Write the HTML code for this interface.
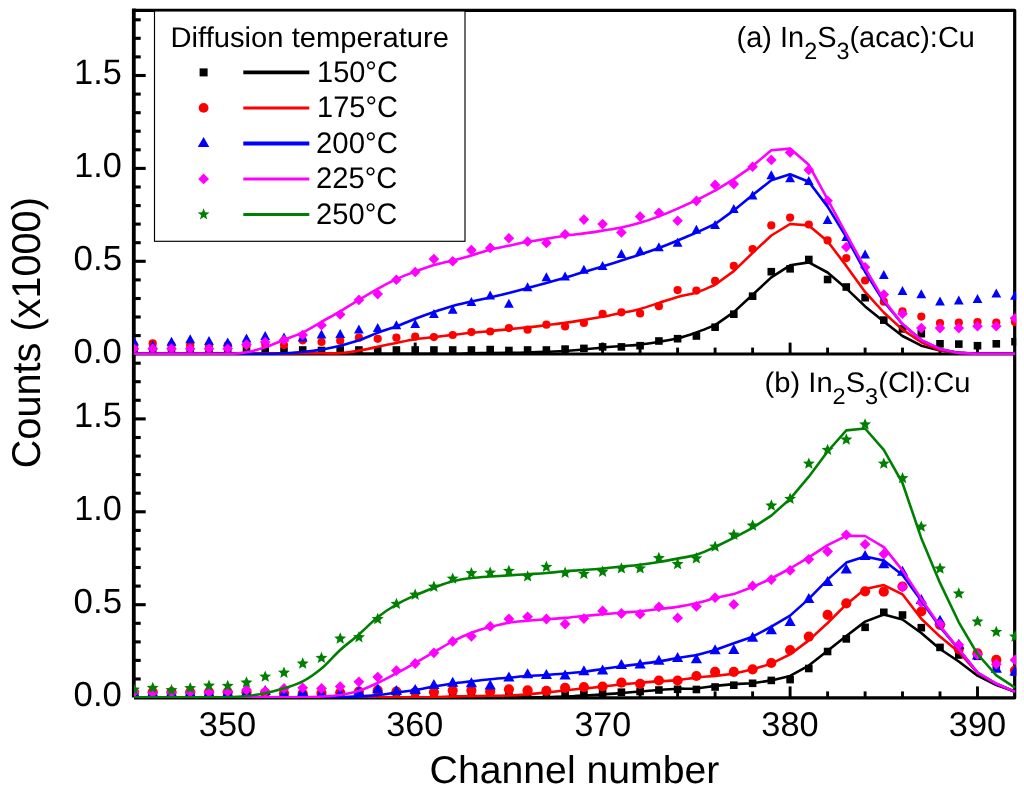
<!DOCTYPE html>
<html><head><meta charset="utf-8"><title>Diffusion temperature</title><style>html,body{margin:0;padding:0;background:#fff;width:1024px;height:796px;overflow:hidden}svg{display:block}</style></head><body>
<svg width="1024" height="796" viewBox="0 0 1024 796">
<rect width="1024" height="796" fill="#fff"/>
<defs><clipPath id="ct"><rect x="134" y="11" width="882.2" height="344.0"/></clipPath><clipPath id="cb"><rect x="134" y="355.5" width="882.2" height="342.5"/></clipPath></defs>
<line x1="133.8" y1="8.6" x2="133.8" y2="697.6" stroke="#000" stroke-width="3.8"/><path d="M133.8,10.3 L1014.7,10.3 L1014.7,697.8 L134,697.8" fill="none" stroke="#000" stroke-width="3.2" stroke-linejoin="round"/><line x1="134" y1="354.05" x2="1014.7" y2="354.05" stroke="#000" stroke-width="3"/><line x1="135" y1="335.6" x2="140.7" y2="335.6" stroke="#000" stroke-width="3.1"/><line x1="135" y1="317.0" x2="140.7" y2="317.0" stroke="#000" stroke-width="3.1"/><line x1="135" y1="298.5" x2="140.7" y2="298.5" stroke="#000" stroke-width="3.1"/><line x1="135" y1="279.9" x2="140.7" y2="279.9" stroke="#000" stroke-width="3.1"/><line x1="135" y1="261.3" x2="145.7" y2="261.3" stroke="#000" stroke-width="3.1"/><line x1="135" y1="242.7" x2="140.7" y2="242.7" stroke="#000" stroke-width="3.1"/><line x1="135" y1="224.1" x2="140.7" y2="224.1" stroke="#000" stroke-width="3.1"/><line x1="135" y1="205.6" x2="140.7" y2="205.6" stroke="#000" stroke-width="3.1"/><line x1="135" y1="187.0" x2="140.7" y2="187.0" stroke="#000" stroke-width="3.1"/><line x1="135" y1="168.4" x2="145.7" y2="168.4" stroke="#000" stroke-width="3.1"/><line x1="135" y1="149.8" x2="140.7" y2="149.8" stroke="#000" stroke-width="3.1"/><line x1="135" y1="131.2" x2="140.7" y2="131.2" stroke="#000" stroke-width="3.1"/><line x1="135" y1="112.7" x2="140.7" y2="112.7" stroke="#000" stroke-width="3.1"/><line x1="135" y1="94.1" x2="140.7" y2="94.1" stroke="#000" stroke-width="3.1"/><line x1="135" y1="75.5" x2="145.7" y2="75.5" stroke="#000" stroke-width="3.1"/><line x1="135" y1="56.9" x2="140.7" y2="56.9" stroke="#000" stroke-width="3.1"/><line x1="135" y1="38.3" x2="140.7" y2="38.3" stroke="#000" stroke-width="3.1"/><line x1="135" y1="19.8" x2="140.7" y2="19.8" stroke="#000" stroke-width="3.1"/><line x1="135" y1="679.0" x2="140.7" y2="679.0" stroke="#000" stroke-width="3.1"/><line x1="135" y1="660.4" x2="140.7" y2="660.4" stroke="#000" stroke-width="3.1"/><line x1="135" y1="641.9" x2="140.7" y2="641.9" stroke="#000" stroke-width="3.1"/><line x1="135" y1="623.3" x2="140.7" y2="623.3" stroke="#000" stroke-width="3.1"/><line x1="135" y1="604.7" x2="145.7" y2="604.7" stroke="#000" stroke-width="3.1"/><line x1="135" y1="586.1" x2="140.7" y2="586.1" stroke="#000" stroke-width="3.1"/><line x1="135" y1="567.5" x2="140.7" y2="567.5" stroke="#000" stroke-width="3.1"/><line x1="135" y1="549.0" x2="140.7" y2="549.0" stroke="#000" stroke-width="3.1"/><line x1="135" y1="530.4" x2="140.7" y2="530.4" stroke="#000" stroke-width="3.1"/><line x1="135" y1="511.8" x2="145.7" y2="511.8" stroke="#000" stroke-width="3.1"/><line x1="135" y1="493.2" x2="140.7" y2="493.2" stroke="#000" stroke-width="3.1"/><line x1="135" y1="474.6" x2="140.7" y2="474.6" stroke="#000" stroke-width="3.1"/><line x1="135" y1="456.1" x2="140.7" y2="456.1" stroke="#000" stroke-width="3.1"/><line x1="135" y1="437.5" x2="140.7" y2="437.5" stroke="#000" stroke-width="3.1"/><line x1="135" y1="418.9" x2="145.7" y2="418.9" stroke="#000" stroke-width="3.1"/><line x1="135" y1="400.3" x2="140.7" y2="400.3" stroke="#000" stroke-width="3.1"/><line x1="135" y1="381.7" x2="140.7" y2="381.7" stroke="#000" stroke-width="3.1"/><line x1="135" y1="363.2" x2="140.7" y2="363.2" stroke="#000" stroke-width="3.1"/><line x1="152.7" y1="353.55" x2="152.7" y2="347.6" stroke="#000" stroke-width="2.9"/><line x1="190.2" y1="353.55" x2="190.2" y2="347.6" stroke="#000" stroke-width="2.9"/><line x1="227.7" y1="353.55" x2="227.7" y2="342.6" stroke="#000" stroke-width="2.9"/><line x1="265.2" y1="353.55" x2="265.2" y2="347.6" stroke="#000" stroke-width="2.9"/><line x1="302.7" y1="353.55" x2="302.7" y2="347.6" stroke="#000" stroke-width="2.9"/><line x1="340.2" y1="353.55" x2="340.2" y2="347.6" stroke="#000" stroke-width="2.9"/><line x1="377.7" y1="353.55" x2="377.7" y2="347.6" stroke="#000" stroke-width="2.9"/><line x1="415.2" y1="353.55" x2="415.2" y2="342.6" stroke="#000" stroke-width="2.9"/><line x1="452.7" y1="353.55" x2="452.7" y2="347.6" stroke="#000" stroke-width="2.9"/><line x1="490.2" y1="353.55" x2="490.2" y2="347.6" stroke="#000" stroke-width="2.9"/><line x1="527.6" y1="353.55" x2="527.6" y2="347.6" stroke="#000" stroke-width="2.9"/><line x1="565.1" y1="353.55" x2="565.1" y2="347.6" stroke="#000" stroke-width="2.9"/><line x1="602.6" y1="353.55" x2="602.6" y2="342.6" stroke="#000" stroke-width="2.9"/><line x1="640.1" y1="353.55" x2="640.1" y2="347.6" stroke="#000" stroke-width="2.9"/><line x1="677.6" y1="353.55" x2="677.6" y2="347.6" stroke="#000" stroke-width="2.9"/><line x1="715.1" y1="353.55" x2="715.1" y2="347.6" stroke="#000" stroke-width="2.9"/><line x1="752.6" y1="353.55" x2="752.6" y2="347.6" stroke="#000" stroke-width="2.9"/><line x1="790.1" y1="353.55" x2="790.1" y2="342.6" stroke="#000" stroke-width="2.9"/><line x1="827.6" y1="353.55" x2="827.6" y2="347.6" stroke="#000" stroke-width="2.9"/><line x1="865.1" y1="353.55" x2="865.1" y2="347.6" stroke="#000" stroke-width="2.9"/><line x1="902.5" y1="353.55" x2="902.5" y2="347.6" stroke="#000" stroke-width="2.9"/><line x1="940.0" y1="353.55" x2="940.0" y2="347.6" stroke="#000" stroke-width="2.9"/><line x1="977.5" y1="353.55" x2="977.5" y2="342.6" stroke="#000" stroke-width="2.9"/><line x1="152.7" y1="697.4" x2="152.7" y2="691.4" stroke="#000" stroke-width="2.9"/><line x1="190.2" y1="697.4" x2="190.2" y2="691.4" stroke="#000" stroke-width="2.9"/><line x1="227.7" y1="697.4" x2="227.7" y2="686.4" stroke="#000" stroke-width="2.9"/><line x1="265.2" y1="697.4" x2="265.2" y2="691.4" stroke="#000" stroke-width="2.9"/><line x1="302.7" y1="697.4" x2="302.7" y2="691.4" stroke="#000" stroke-width="2.9"/><line x1="340.2" y1="697.4" x2="340.2" y2="691.4" stroke="#000" stroke-width="2.9"/><line x1="377.7" y1="697.4" x2="377.7" y2="691.4" stroke="#000" stroke-width="2.9"/><line x1="415.2" y1="697.4" x2="415.2" y2="686.4" stroke="#000" stroke-width="2.9"/><line x1="452.7" y1="697.4" x2="452.7" y2="691.4" stroke="#000" stroke-width="2.9"/><line x1="490.2" y1="697.4" x2="490.2" y2="691.4" stroke="#000" stroke-width="2.9"/><line x1="527.6" y1="697.4" x2="527.6" y2="691.4" stroke="#000" stroke-width="2.9"/><line x1="565.1" y1="697.4" x2="565.1" y2="691.4" stroke="#000" stroke-width="2.9"/><line x1="602.6" y1="697.4" x2="602.6" y2="686.4" stroke="#000" stroke-width="2.9"/><line x1="640.1" y1="697.4" x2="640.1" y2="691.4" stroke="#000" stroke-width="2.9"/><line x1="677.6" y1="697.4" x2="677.6" y2="691.4" stroke="#000" stroke-width="2.9"/><line x1="715.1" y1="697.4" x2="715.1" y2="691.4" stroke="#000" stroke-width="2.9"/><line x1="752.6" y1="697.4" x2="752.6" y2="691.4" stroke="#000" stroke-width="2.9"/><line x1="790.1" y1="697.4" x2="790.1" y2="686.4" stroke="#000" stroke-width="2.9"/><line x1="827.6" y1="697.4" x2="827.6" y2="691.4" stroke="#000" stroke-width="2.9"/><line x1="865.1" y1="697.4" x2="865.1" y2="691.4" stroke="#000" stroke-width="2.9"/><line x1="902.5" y1="697.4" x2="902.5" y2="691.4" stroke="#000" stroke-width="2.9"/><line x1="940.0" y1="697.4" x2="940.0" y2="691.4" stroke="#000" stroke-width="2.9"/><line x1="977.5" y1="697.4" x2="977.5" y2="686.4" stroke="#000" stroke-width="2.9"/>
<g clip-path="url(#ct)">
<rect x="130.2" y="346.6" width="7.6" height="7.6" fill="#000"/><rect x="148.9" y="346.6" width="7.6" height="7.6" fill="#000"/><rect x="167.7" y="346.6" width="7.6" height="7.6" fill="#000"/><rect x="186.4" y="346.6" width="7.6" height="7.6" fill="#000"/><rect x="205.2" y="346.6" width="7.6" height="7.6" fill="#000"/><rect x="223.9" y="346.6" width="7.6" height="7.6" fill="#000"/><rect x="242.7" y="346.2" width="7.6" height="7.6" fill="#000"/><rect x="261.4" y="346.6" width="7.6" height="7.6" fill="#000"/><rect x="280.2" y="347.2" width="7.6" height="7.6" fill="#000"/><rect x="298.9" y="346.2" width="7.6" height="7.6" fill="#000"/><rect x="317.7" y="346.7" width="7.6" height="7.6" fill="#000"/><rect x="336.4" y="346.2" width="7.6" height="7.6" fill="#000"/><rect x="355.1" y="346.2" width="7.6" height="7.6" fill="#000"/><rect x="373.9" y="346.2" width="7.6" height="7.6" fill="#000"/><rect x="392.6" y="346.2" width="7.6" height="7.6" fill="#000"/><rect x="411.4" y="346.2" width="7.6" height="7.6" fill="#000"/><rect x="430.1" y="346.2" width="7.6" height="7.6" fill="#000"/><rect x="448.9" y="346.2" width="7.6" height="7.6" fill="#000"/><rect x="467.6" y="346.2" width="7.6" height="7.6" fill="#000"/><rect x="486.4" y="345.8" width="7.6" height="7.6" fill="#000"/><rect x="505.1" y="346.7" width="7.6" height="7.6" fill="#000"/><rect x="523.8" y="346.2" width="7.6" height="7.6" fill="#000"/><rect x="542.6" y="346.2" width="7.6" height="7.6" fill="#000"/><rect x="561.3" y="345.3" width="7.6" height="7.6" fill="#000"/><rect x="580.1" y="344.6" width="7.6" height="7.6" fill="#000"/><rect x="598.8" y="343.1" width="7.6" height="7.6" fill="#000"/><rect x="617.6" y="343.1" width="7.6" height="7.6" fill="#000"/><rect x="636.3" y="341.9" width="7.6" height="7.6" fill="#000"/><rect x="655.1" y="337.2" width="7.6" height="7.6" fill="#000"/><rect x="673.8" y="334.9" width="7.6" height="7.6" fill="#000"/><rect x="692.6" y="332.2" width="7.6" height="7.6" fill="#000"/><rect x="711.3" y="323.4" width="7.6" height="7.6" fill="#000"/><rect x="730.0" y="310.4" width="7.6" height="7.6" fill="#000"/><rect x="748.8" y="292.4" width="7.6" height="7.6" fill="#000"/><rect x="767.5" y="267.9" width="7.6" height="7.6" fill="#000"/><rect x="786.3" y="265.0" width="7.6" height="7.6" fill="#000"/><rect x="805.0" y="255.7" width="7.6" height="7.6" fill="#000"/><rect x="823.8" y="275.7" width="7.6" height="7.6" fill="#000"/><rect x="842.5" y="283.2" width="7.6" height="7.6" fill="#000"/><rect x="861.3" y="293.9" width="7.6" height="7.6" fill="#000"/><rect x="880.0" y="316.3" width="7.6" height="7.6" fill="#000"/><rect x="898.7" y="325.1" width="7.6" height="7.6" fill="#000"/><rect x="917.5" y="329.9" width="7.6" height="7.6" fill="#000"/><rect x="936.2" y="340.0" width="7.6" height="7.6" fill="#000"/><rect x="955.0" y="340.3" width="7.6" height="7.6" fill="#000"/><rect x="973.7" y="341.9" width="7.6" height="7.6" fill="#000"/><rect x="992.5" y="340.0" width="7.6" height="7.6" fill="#000"/><rect x="1011.2" y="337.9" width="7.6" height="7.6" fill="#000"/>
<circle cx="134.0" cy="345.0" r="4.1" fill="#f00"/><circle cx="152.7" cy="343.4" r="4.1" fill="#f00"/><circle cx="171.5" cy="345.0" r="4.1" fill="#f00"/><circle cx="190.2" cy="345.2" r="4.1" fill="#f00"/><circle cx="209.0" cy="345.0" r="4.1" fill="#f00"/><circle cx="227.7" cy="345.0" r="4.1" fill="#f00"/><circle cx="246.5" cy="345.0" r="4.1" fill="#f00"/><circle cx="265.2" cy="344.0" r="4.1" fill="#f00"/><circle cx="284.0" cy="345.0" r="4.1" fill="#f00"/><circle cx="302.7" cy="340.3" r="4.1" fill="#f00"/><circle cx="321.5" cy="342.0" r="4.1" fill="#f00"/><circle cx="340.2" cy="340.7" r="4.1" fill="#f00"/><circle cx="358.9" cy="337.7" r="4.1" fill="#f00"/><circle cx="377.7" cy="338.8" r="4.1" fill="#f00"/><circle cx="396.4" cy="337.7" r="4.1" fill="#f00"/><circle cx="415.2" cy="336.7" r="4.1" fill="#f00"/><circle cx="433.9" cy="337.1" r="4.1" fill="#f00"/><circle cx="452.7" cy="335.0" r="4.1" fill="#f00"/><circle cx="471.4" cy="332.1" r="4.1" fill="#f00"/><circle cx="490.2" cy="331.5" r="4.1" fill="#f00"/><circle cx="508.9" cy="328.1" r="4.1" fill="#f00"/><circle cx="527.6" cy="329.7" r="4.1" fill="#f00"/><circle cx="546.4" cy="324.7" r="4.1" fill="#f00"/><circle cx="565.1" cy="326.5" r="4.1" fill="#f00"/><circle cx="583.9" cy="322.9" r="4.1" fill="#f00"/><circle cx="602.6" cy="313.9" r="4.1" fill="#f00"/><circle cx="621.4" cy="312.3" r="4.1" fill="#f00"/><circle cx="640.1" cy="313.4" r="4.1" fill="#f00"/><circle cx="658.9" cy="306.2" r="4.1" fill="#f00"/><circle cx="677.6" cy="290.1" r="4.1" fill="#f00"/><circle cx="696.4" cy="290.6" r="4.1" fill="#f00"/><circle cx="715.1" cy="280.9" r="4.1" fill="#f00"/><circle cx="733.8" cy="265.9" r="4.1" fill="#f00"/><circle cx="752.6" cy="249.1" r="4.1" fill="#f00"/><circle cx="771.3" cy="225.4" r="4.1" fill="#f00"/><circle cx="790.1" cy="217.6" r="4.1" fill="#f00"/><circle cx="808.8" cy="224.5" r="4.1" fill="#f00"/><circle cx="827.6" cy="240.4" r="4.1" fill="#f00"/><circle cx="846.3" cy="258.1" r="4.1" fill="#f00"/><circle cx="865.1" cy="280.5" r="4.1" fill="#f00"/><circle cx="883.8" cy="301.7" r="4.1" fill="#f00"/><circle cx="902.5" cy="311.3" r="4.1" fill="#f00"/><circle cx="921.3" cy="316.6" r="4.1" fill="#f00"/><circle cx="940.0" cy="323.0" r="4.1" fill="#f00"/><circle cx="958.8" cy="322.5" r="4.1" fill="#f00"/><circle cx="977.5" cy="322.0" r="4.1" fill="#f00"/><circle cx="996.3" cy="322.5" r="4.1" fill="#f00"/><circle cx="1015.0" cy="322.0" r="4.1" fill="#f00"/>
<polygon points="134.0,336.5 138.9,345.5 129.1,345.5" fill="#00f"/><polygon points="152.7,340.5 157.6,349.5 147.8,349.5" fill="#00f"/><polygon points="171.5,336.8 176.4,345.8 166.6,345.8" fill="#00f"/><polygon points="190.2,334.3 195.1,343.3 185.3,343.3" fill="#00f"/><polygon points="209.0,336.0 213.9,345.0 204.1,345.0" fill="#00f"/><polygon points="227.7,337.5 232.6,346.5 222.8,346.5" fill="#00f"/><polygon points="246.5,333.4 251.4,342.4 241.6,342.4" fill="#00f"/><polygon points="265.2,331.0 270.1,340.0 260.3,340.0" fill="#00f"/><polygon points="284.0,332.5 288.9,341.5 279.1,341.5" fill="#00f"/><polygon points="302.7,332.5 307.6,341.5 297.8,341.5" fill="#00f"/><polygon points="321.5,329.4 326.4,338.4 316.6,338.4" fill="#00f"/><polygon points="340.2,328.9 345.1,337.9 335.3,337.9" fill="#00f"/><polygon points="358.9,324.6 363.8,333.6 354.0,333.6" fill="#00f"/><polygon points="377.7,322.9 382.6,331.9 372.8,331.9" fill="#00f"/><polygon points="396.4,320.3 401.3,329.3 391.5,329.3" fill="#00f"/><polygon points="415.2,319.1 420.1,328.1 410.3,328.1" fill="#00f"/><polygon points="433.9,309.0 438.8,318.0 429.0,318.0" fill="#00f"/><polygon points="452.7,304.7 457.6,313.7 447.8,313.7" fill="#00f"/><polygon points="471.4,297.1 476.3,306.1 466.5,306.1" fill="#00f"/><polygon points="490.2,290.5 495.1,299.5 485.3,299.5" fill="#00f"/><polygon points="508.9,298.8 513.8,307.8 504.0,307.8" fill="#00f"/><polygon points="527.6,282.2 532.5,291.2 522.7,291.2" fill="#00f"/><polygon points="546.4,272.3 551.3,281.3 541.5,281.3" fill="#00f"/><polygon points="565.1,271.6 570.0,280.6 560.2,280.6" fill="#00f"/><polygon points="583.9,264.8 588.8,273.8 579.0,273.8" fill="#00f"/><polygon points="602.6,261.0 607.5,270.0 597.7,270.0" fill="#00f"/><polygon points="621.4,249.0 626.3,258.0 616.5,258.0" fill="#00f"/><polygon points="640.1,246.0 645.0,255.0 635.2,255.0" fill="#00f"/><polygon points="658.9,242.2 663.8,251.2 654.0,251.2" fill="#00f"/><polygon points="677.6,237.7 682.5,246.7 672.7,246.7" fill="#00f"/><polygon points="696.4,224.8 701.2,233.8 691.5,233.8" fill="#00f"/><polygon points="715.1,220.0 720.0,229.0 710.2,229.0" fill="#00f"/><polygon points="733.8,204.1 738.7,213.1 728.9,213.1" fill="#00f"/><polygon points="752.6,190.5 757.5,199.5 747.7,199.5" fill="#00f"/><polygon points="771.3,170.3 776.2,179.3 766.4,179.3" fill="#00f"/><polygon points="790.1,173.2 795.0,182.2 785.2,182.2" fill="#00f"/><polygon points="808.8,176.1 813.7,185.1 803.9,185.1" fill="#00f"/><polygon points="827.6,215.1 832.5,224.1 822.7,224.1" fill="#00f"/><polygon points="846.3,231.9 851.2,240.9 841.4,240.9" fill="#00f"/><polygon points="865.1,249.5 870.0,258.5 860.2,258.5" fill="#00f"/><polygon points="883.8,269.9 888.7,278.9 878.9,278.9" fill="#00f"/><polygon points="902.5,285.9 907.4,294.9 897.6,294.9" fill="#00f"/><polygon points="921.3,289.2 926.2,298.2 916.4,298.2" fill="#00f"/><polygon points="940.0,296.4 944.9,305.4 935.1,305.4" fill="#00f"/><polygon points="958.8,295.6 963.7,304.6 953.9,304.6" fill="#00f"/><polygon points="977.5,294.0 982.4,303.0 972.6,303.0" fill="#00f"/><polygon points="996.3,288.4 1001.2,297.4 991.4,297.4" fill="#00f"/><polygon points="1015.0,290.8 1019.9,299.8 1010.1,299.8" fill="#00f"/>
<polygon points="134.0,343.4 139.3,348.7 134.0,354.0 128.7,348.7" fill="#f0f"/><polygon points="152.7,343.4 158.0,348.7 152.7,354.0 147.4,348.7" fill="#f0f"/><polygon points="171.5,343.4 176.8,348.7 171.5,354.0 166.2,348.7" fill="#f0f"/><polygon points="190.2,343.4 195.5,348.7 190.2,354.0 184.9,348.7" fill="#f0f"/><polygon points="209.0,343.4 214.3,348.7 209.0,354.0 203.7,348.7" fill="#f0f"/><polygon points="227.7,343.4 233.0,348.7 227.7,354.0 222.4,348.7" fill="#f0f"/><polygon points="246.5,339.3 251.8,344.6 246.5,349.9 241.2,344.6" fill="#f0f"/><polygon points="265.2,336.7 270.5,342.0 265.2,347.3 259.9,342.0" fill="#f0f"/><polygon points="284.0,334.7 289.3,340.0 284.0,345.3 278.7,340.0" fill="#f0f"/><polygon points="302.7,329.7 308.0,335.0 302.7,340.3 297.4,335.0" fill="#f0f"/><polygon points="321.5,320.0 326.8,325.3 321.5,330.6 316.2,325.3" fill="#f0f"/><polygon points="340.2,309.2 345.5,314.5 340.2,319.8 334.9,314.5" fill="#f0f"/><polygon points="358.9,294.6 364.2,299.9 358.9,305.2 353.6,299.9" fill="#f0f"/><polygon points="377.7,288.8 383.0,294.1 377.7,299.4 372.4,294.1" fill="#f0f"/><polygon points="396.4,274.4 401.7,279.7 396.4,285.0 391.1,279.7" fill="#f0f"/><polygon points="415.2,266.7 420.5,272.0 415.2,277.3 409.9,272.0" fill="#f0f"/><polygon points="433.9,253.8 439.2,259.1 433.9,264.4 428.6,259.1" fill="#f0f"/><polygon points="452.7,256.0 458.0,261.3 452.7,266.6 447.4,261.3" fill="#f0f"/><polygon points="471.4,244.8 476.7,250.1 471.4,255.4 466.1,250.1" fill="#f0f"/><polygon points="490.2,242.6 495.5,247.9 490.2,253.2 484.9,247.9" fill="#f0f"/><polygon points="508.9,233.0 514.2,238.3 508.9,243.6 503.6,238.3" fill="#f0f"/><polygon points="527.6,236.2 532.9,241.5 527.6,246.8 522.3,241.5" fill="#f0f"/><polygon points="546.4,237.6 551.7,242.9 546.4,248.2 541.1,242.9" fill="#f0f"/><polygon points="565.1,229.0 570.4,234.3 565.1,239.6 559.8,234.3" fill="#f0f"/><polygon points="583.9,214.3 589.2,219.6 583.9,224.9 578.6,219.6" fill="#f0f"/><polygon points="602.6,218.8 607.9,224.1 602.6,229.4 597.3,224.1" fill="#f0f"/><polygon points="621.4,227.2 626.7,232.5 621.4,237.8 616.1,232.5" fill="#f0f"/><polygon points="640.1,211.3 645.4,216.6 640.1,221.9 634.8,216.6" fill="#f0f"/><polygon points="658.9,207.5 664.2,212.8 658.9,218.1 653.6,212.8" fill="#f0f"/><polygon points="677.6,215.4 682.9,220.7 677.6,226.0 672.3,220.7" fill="#f0f"/><polygon points="696.4,195.6 701.6,200.9 696.4,206.2 691.1,200.9" fill="#f0f"/><polygon points="715.1,179.6 720.4,184.9 715.1,190.2 709.8,184.9" fill="#f0f"/><polygon points="733.8,178.8 739.1,184.1 733.8,189.4 728.5,184.1" fill="#f0f"/><polygon points="752.6,161.4 757.9,166.7 752.6,172.0 747.3,166.7" fill="#f0f"/><polygon points="771.3,154.6 776.6,159.9 771.3,165.2 766.0,159.9" fill="#f0f"/><polygon points="790.1,147.2 795.4,152.5 790.1,157.8 784.8,152.5" fill="#f0f"/><polygon points="808.8,164.6 814.1,169.9 808.8,175.2 803.5,169.9" fill="#f0f"/><polygon points="827.6,195.5 832.9,200.8 827.6,206.1 822.3,200.8" fill="#f0f"/><polygon points="846.3,241.8 851.6,247.1 846.3,252.4 841.0,247.1" fill="#f0f"/><polygon points="865.1,261.9 870.4,267.2 865.1,272.5 859.8,267.2" fill="#f0f"/><polygon points="883.8,289.3 889.1,294.6 883.8,299.9 878.5,294.6" fill="#f0f"/><polygon points="902.5,308.4 907.8,313.7 902.5,319.0 897.2,313.7" fill="#f0f"/><polygon points="921.3,322.8 926.6,328.1 921.3,333.4 916.0,328.1" fill="#f0f"/><polygon points="940.0,322.8 945.3,328.1 940.0,333.4 934.7,328.1" fill="#f0f"/><polygon points="958.8,322.8 964.1,328.1 958.8,333.4 953.5,328.1" fill="#f0f"/><polygon points="977.5,320.9 982.8,326.2 977.5,331.5 972.2,326.2" fill="#f0f"/><polygon points="996.3,320.9 1001.6,326.2 996.3,331.5 991.0,326.2" fill="#f0f"/><polygon points="1015.0,312.9 1020.3,318.2 1015.0,323.5 1009.7,318.2" fill="#f0f"/>
<path d="M134.0,353.9C137.1,353.9 146.5,353.9 152.7,353.9C159.0,353.9 165.2,353.9 171.5,353.9C177.7,353.9 184.0,353.9 190.2,353.9C196.5,353.9 202.7,353.9 209.0,353.9C215.2,353.9 221.5,353.9 227.7,353.9C234.0,353.9 240.2,353.9 246.5,353.9C252.7,353.9 259.0,353.9 265.2,353.9C271.5,353.9 277.7,353.9 284.0,353.9C290.2,353.9 296.5,353.9 302.7,353.9C309.0,353.9 315.2,353.9 321.5,353.9C327.7,353.9 333.9,353.9 340.2,353.9C346.4,353.9 352.7,353.9 358.9,353.9C365.2,353.9 371.4,353.9 377.7,353.9C383.9,353.9 390.2,353.9 396.4,353.9C402.7,353.9 408.9,353.9 415.2,353.9C421.4,353.9 427.7,353.9 433.9,353.9C440.2,353.9 446.4,354.1 452.7,353.9C458.9,353.8 465.2,353.4 471.4,353.2C477.7,353.1 483.9,353.1 490.2,353.0C496.4,352.9 502.7,352.8 508.9,352.8C515.1,352.7 521.4,352.7 527.6,352.5C533.9,352.3 540.1,352.0 546.4,351.8C552.6,351.5 558.9,351.4 565.1,351.0C571.4,350.6 577.6,350.1 583.9,349.5C590.1,348.9 596.4,348.1 602.6,347.5C608.9,346.9 615.1,346.5 621.4,346.0C627.6,345.5 633.9,345.3 640.1,344.6C646.4,343.9 652.6,342.9 658.9,341.8C665.1,340.8 671.4,339.9 677.6,338.3C683.9,336.7 690.1,334.6 696.4,332.4C702.6,330.2 708.8,327.5 715.1,325.1L733.8,312.1L752.6,294.8L771.3,277.4L790.1,265.3L808.8,262.4L827.6,272.5L846.3,288.4L865.1,306.4L883.8,321.5L902.5,336.0L921.3,345.7L940.0,350.5L958.8,352.9L977.5,353.9L996.3,353.9L1015.0,353.9" fill="none" stroke="#000000" stroke-width="2.6" stroke-linejoin="round"/>
<path d="M134.0,353.9C137.1,353.9 146.5,353.9 152.7,353.9C159.0,353.9 165.2,353.9 171.5,353.9C177.7,353.9 184.0,353.9 190.2,353.9C196.5,353.9 202.7,353.9 209.0,353.9C215.2,353.9 221.5,353.9 227.7,353.9C234.0,353.9 240.2,354.0 246.5,353.9C252.7,353.9 259.0,353.6 265.2,353.5C271.5,353.4 277.7,353.4 284.0,353.4C290.2,353.4 296.5,353.4 302.7,353.3C309.0,353.3 315.2,353.3 321.5,353.3C327.7,353.2 333.9,353.6 340.2,353.2C346.4,352.8 352.7,351.7 358.9,350.6C365.2,349.5 371.4,348.1 377.7,346.8C383.9,345.5 390.2,344.2 396.4,342.9C402.7,341.6 408.9,340.2 415.2,339.2C421.4,338.2 427.7,337.8 433.9,337.1C440.2,336.4 446.4,335.6 452.7,334.9C458.9,334.2 465.2,333.4 471.4,332.8C477.7,332.2 483.9,331.7 490.2,331.1C496.4,330.5 502.7,329.7 508.9,329.1C515.1,328.5 521.4,328.0 527.6,327.4C533.9,326.8 540.1,325.9 546.4,325.2C552.6,324.4 558.9,323.8 565.1,322.9C571.4,322.0 577.6,321.0 583.9,320.0C590.1,319.0 596.4,318.0 602.6,316.8C608.9,315.6 615.1,314.3 621.4,313.0C627.6,311.7 633.9,310.6 640.1,308.9C646.4,307.2 652.6,305.0 658.9,303.0C665.1,301.0 671.4,298.8 677.6,297.0C683.9,295.2 690.1,294.6 696.4,292.5C702.6,290.4 708.8,287.3 715.1,284.7L733.8,271.1L752.6,252.9L771.3,235.5L790.1,224.0L808.8,225.4L827.6,241.3L846.3,265.9L865.1,291.9L883.8,312.5L902.5,329.6L921.3,342.2L940.0,350.2L958.8,352.9L977.5,353.9L996.3,353.9L1015.0,353.9" fill="none" stroke="#ff0000" stroke-width="2.6" stroke-linejoin="round"/>
<path d="M134.0,353.9C137.1,353.9 146.5,353.9 152.7,353.9C159.0,353.9 165.2,353.9 171.5,353.9C177.7,353.9 184.0,353.9 190.2,353.9C196.5,353.9 202.7,353.9 209.0,353.9C215.2,353.9 221.5,353.9 227.7,353.9C234.0,353.9 240.2,353.9 246.5,353.9C252.7,353.9 259.0,354.1 265.2,353.9C271.5,353.8 277.7,353.5 284.0,353.2C290.2,352.9 296.5,352.6 302.7,352.0C309.0,351.4 315.2,350.7 321.5,349.6C327.7,348.6 333.9,347.2 340.2,345.7C346.4,344.1 352.7,342.4 358.9,340.3C365.2,338.2 371.4,335.1 377.7,332.8C383.9,330.5 390.2,328.6 396.4,326.3C402.7,324.0 408.9,321.2 415.2,318.8C421.4,316.4 427.7,314.1 433.9,312.0C440.2,309.9 446.4,307.6 452.7,305.9C458.9,304.2 465.2,303.0 471.4,301.6C477.7,300.2 483.9,298.8 490.2,297.4C496.4,296.0 502.7,294.6 508.9,293.0C515.1,291.4 521.4,289.7 527.6,288.0C533.9,286.3 540.1,284.7 546.4,283.0C552.6,281.3 558.9,279.5 565.1,277.7C571.4,275.9 577.6,273.9 583.9,272.0C590.1,270.1 596.4,268.3 602.6,266.4C608.9,264.5 615.1,262.5 621.4,260.5C627.6,258.5 633.9,256.7 640.1,254.6C646.4,252.5 652.6,250.3 658.9,248.0C665.1,245.7 671.4,243.1 677.6,240.5C683.9,237.9 690.1,235.3 696.4,232.6C702.6,229.8 708.8,226.9 715.1,224.0L733.8,210.4L752.6,195.0L771.3,180.2L790.1,174.3L808.8,181.8L827.6,206.6L846.3,237.0L865.1,271.7L883.8,301.5L902.5,324.3L921.3,340.1L940.0,348.9L958.8,352.9L977.5,353.9L996.3,353.9L1015.0,353.9" fill="none" stroke="#0000ff" stroke-width="2.6" stroke-linejoin="round"/>
<path d="M134.0,353.9C137.1,353.9 146.5,353.9 152.7,353.9C159.0,353.9 165.2,353.9 171.5,353.9C177.7,353.9 184.0,353.9 190.2,353.9C196.5,353.9 202.7,353.9 209.0,353.9C215.2,353.9 221.5,354.2 227.7,353.9C234.0,353.7 240.2,353.3 246.5,352.2C252.7,351.1 259.0,349.4 265.2,347.3C271.5,345.2 277.7,342.3 284.0,339.8C290.2,337.3 296.5,335.4 302.7,332.4C309.0,329.4 315.2,325.3 321.5,321.8C327.7,318.3 333.9,315.0 340.2,311.3C346.4,307.6 352.7,303.6 358.9,299.9C365.2,296.1 371.4,292.3 377.7,288.8C383.9,285.3 390.2,282.0 396.4,279.1C402.7,276.2 408.9,273.9 415.2,271.6C421.4,269.3 427.7,267.0 433.9,265.1C440.2,263.2 446.4,262.0 452.7,260.4C458.9,258.8 465.2,257.2 471.4,255.4C477.7,253.6 483.9,251.4 490.2,249.8C496.4,248.2 502.7,247.0 508.9,245.7C515.1,244.4 521.4,243.0 527.6,241.8C533.9,240.7 540.1,239.8 546.4,238.8C552.6,237.8 558.9,236.6 565.1,235.7C571.4,234.8 577.6,234.2 583.9,233.4C590.1,232.6 596.4,231.6 602.6,230.6C608.9,229.6 615.1,228.8 621.4,227.5C627.6,226.2 633.9,224.7 640.1,222.8C646.4,221.0 652.6,218.8 658.9,216.4C665.1,214.0 671.4,211.3 677.6,208.6C683.9,205.9 690.1,203.2 696.4,200.2C702.6,197.2 708.8,193.9 715.1,190.7L733.8,179.1L752.6,166.1L771.3,150.2L790.1,148.6L808.8,164.8L827.6,199.4L846.3,234.1L865.1,268.2L883.8,300.0L902.5,324.1L921.3,340.1L940.0,348.9L958.8,352.9L977.5,353.9L996.3,353.9L1015.0,353.9" fill="none" stroke="#ff00ff" stroke-width="2.6" stroke-linejoin="round"/>
</g>
<g clip-path="url(#cb)">
<rect x="130.2" y="691.7" width="7.6" height="7.6" fill="#000"/><rect x="148.9" y="691.7" width="7.6" height="7.6" fill="#000"/><rect x="167.7" y="691.7" width="7.6" height="7.6" fill="#000"/><rect x="186.4" y="691.7" width="7.6" height="7.6" fill="#000"/><rect x="205.2" y="691.7" width="7.6" height="7.6" fill="#000"/><rect x="223.9" y="691.7" width="7.6" height="7.6" fill="#000"/><rect x="242.7" y="691.7" width="7.6" height="7.6" fill="#000"/><rect x="261.4" y="691.7" width="7.6" height="7.6" fill="#000"/><rect x="280.2" y="691.7" width="7.6" height="7.6" fill="#000"/><rect x="298.9" y="691.7" width="7.6" height="7.6" fill="#000"/><rect x="317.7" y="691.7" width="7.6" height="7.6" fill="#000"/><rect x="336.4" y="691.7" width="7.6" height="7.6" fill="#000"/><rect x="355.1" y="691.7" width="7.6" height="7.6" fill="#000"/><rect x="373.9" y="691.7" width="7.6" height="7.6" fill="#000"/><rect x="392.6" y="691.7" width="7.6" height="7.6" fill="#000"/><rect x="411.4" y="691.7" width="7.6" height="7.6" fill="#000"/><rect x="430.1" y="691.7" width="7.6" height="7.6" fill="#000"/><rect x="448.9" y="691.7" width="7.6" height="7.6" fill="#000"/><rect x="467.6" y="691.7" width="7.6" height="7.6" fill="#000"/><rect x="486.4" y="691.7" width="7.6" height="7.6" fill="#000"/><rect x="505.1" y="691.7" width="7.6" height="7.6" fill="#000"/><rect x="523.8" y="691.7" width="7.6" height="7.6" fill="#000"/><rect x="542.6" y="691.7" width="7.6" height="7.6" fill="#000"/><rect x="561.3" y="691.0" width="7.6" height="7.6" fill="#000"/><rect x="580.1" y="690.7" width="7.6" height="7.6" fill="#000"/><rect x="598.8" y="689.9" width="7.6" height="7.6" fill="#000"/><rect x="617.6" y="688.4" width="7.6" height="7.6" fill="#000"/><rect x="636.3" y="687.7" width="7.6" height="7.6" fill="#000"/><rect x="655.1" y="686.2" width="7.6" height="7.6" fill="#000"/><rect x="673.8" y="685.5" width="7.6" height="7.6" fill="#000"/><rect x="692.6" y="685.7" width="7.6" height="7.6" fill="#000"/><rect x="711.3" y="683.2" width="7.6" height="7.6" fill="#000"/><rect x="730.0" y="681.4" width="7.6" height="7.6" fill="#000"/><rect x="748.8" y="679.5" width="7.6" height="7.6" fill="#000"/><rect x="767.5" y="676.6" width="7.6" height="7.6" fill="#000"/><rect x="786.3" y="675.8" width="7.6" height="7.6" fill="#000"/><rect x="805.0" y="664.7" width="7.6" height="7.6" fill="#000"/><rect x="823.8" y="647.7" width="7.6" height="7.6" fill="#000"/><rect x="842.5" y="635.1" width="7.6" height="7.6" fill="#000"/><rect x="861.3" y="623.5" width="7.6" height="7.6" fill="#000"/><rect x="880.0" y="608.5" width="7.6" height="7.6" fill="#000"/><rect x="898.7" y="611.2" width="7.6" height="7.6" fill="#000"/><rect x="917.5" y="623.9" width="7.6" height="7.6" fill="#000"/><rect x="936.2" y="643.6" width="7.6" height="7.6" fill="#000"/><rect x="955.0" y="651.2" width="7.6" height="7.6" fill="#000"/><rect x="973.7" y="652.5" width="7.6" height="7.6" fill="#000"/><rect x="992.5" y="661.2" width="7.6" height="7.6" fill="#000"/><rect x="1011.2" y="668.2" width="7.6" height="7.6" fill="#000"/>
<circle cx="134.0" cy="692.2" r="5.1" fill="#f00"/><circle cx="152.7" cy="692.2" r="5.1" fill="#f00"/><circle cx="171.5" cy="692.2" r="5.1" fill="#f00"/><circle cx="190.2" cy="692.2" r="5.1" fill="#f00"/><circle cx="209.0" cy="692.2" r="5.1" fill="#f00"/><circle cx="227.7" cy="692.2" r="5.1" fill="#f00"/><circle cx="246.5" cy="692.2" r="5.1" fill="#f00"/><circle cx="265.2" cy="692.8" r="5.1" fill="#f00"/><circle cx="284.0" cy="693.2" r="5.1" fill="#f00"/><circle cx="302.7" cy="693.5" r="5.1" fill="#f00"/><circle cx="321.5" cy="693.0" r="5.1" fill="#f00"/><circle cx="340.2" cy="692.5" r="5.1" fill="#f00"/><circle cx="358.9" cy="691.5" r="5.1" fill="#f00"/><circle cx="377.7" cy="690.4" r="5.1" fill="#f00"/><circle cx="396.4" cy="691.5" r="5.1" fill="#f00"/><circle cx="415.2" cy="692.0" r="5.1" fill="#f00"/><circle cx="433.9" cy="692.1" r="5.1" fill="#f00"/><circle cx="452.7" cy="690.4" r="5.1" fill="#f00"/><circle cx="471.4" cy="690.4" r="5.1" fill="#f00"/><circle cx="490.2" cy="691.5" r="5.1" fill="#f00"/><circle cx="508.9" cy="689.3" r="5.1" fill="#f00"/><circle cx="527.6" cy="690.4" r="5.1" fill="#f00"/><circle cx="546.4" cy="690.9" r="5.1" fill="#f00"/><circle cx="565.1" cy="687.8" r="5.1" fill="#f00"/><circle cx="583.9" cy="687.1" r="5.1" fill="#f00"/><circle cx="602.6" cy="686.5" r="5.1" fill="#f00"/><circle cx="621.4" cy="682.7" r="5.1" fill="#f00"/><circle cx="640.1" cy="683.8" r="5.1" fill="#f00"/><circle cx="658.9" cy="680.5" r="5.1" fill="#f00"/><circle cx="677.6" cy="680.5" r="5.1" fill="#f00"/><circle cx="696.4" cy="676.0" r="5.1" fill="#f00"/><circle cx="715.1" cy="671.9" r="5.1" fill="#f00"/><circle cx="733.8" cy="671.9" r="5.1" fill="#f00"/><circle cx="752.6" cy="669.3" r="5.1" fill="#f00"/><circle cx="771.3" cy="663.0" r="5.1" fill="#f00"/><circle cx="790.1" cy="650.0" r="5.1" fill="#f00"/><circle cx="808.8" cy="636.7" r="5.1" fill="#f00"/><circle cx="827.6" cy="614.8" r="5.1" fill="#f00"/><circle cx="846.3" cy="603.3" r="5.1" fill="#f00"/><circle cx="865.1" cy="591.3" r="5.1" fill="#f00"/><circle cx="883.8" cy="591.7" r="5.1" fill="#f00"/><circle cx="902.5" cy="586.5" r="5.1" fill="#f00"/><circle cx="921.3" cy="611.5" r="5.1" fill="#f00"/><circle cx="940.0" cy="624.8" r="5.1" fill="#f00"/><circle cx="958.8" cy="649.1" r="5.1" fill="#f00"/><circle cx="977.5" cy="653.4" r="5.1" fill="#f00"/><circle cx="996.3" cy="659.9" r="5.1" fill="#f00"/><circle cx="1015.0" cy="670.6" r="5.1" fill="#f00"/>
<polygon points="134.0,686.8 139.6,696.8 128.4,696.8" fill="#00f"/><polygon points="152.7,686.8 158.3,696.8 147.1,696.8" fill="#00f"/><polygon points="171.5,686.8 177.1,696.8 165.9,696.8" fill="#00f"/><polygon points="190.2,686.8 195.8,696.8 184.6,696.8" fill="#00f"/><polygon points="209.0,686.8 214.6,696.8 203.4,696.8" fill="#00f"/><polygon points="227.7,686.8 233.3,696.8 222.1,696.8" fill="#00f"/><polygon points="246.5,686.5 252.1,696.5 240.9,696.5" fill="#00f"/><polygon points="265.2,685.0 270.8,695.0 259.6,695.0" fill="#00f"/><polygon points="284.0,687.5 289.6,697.5 278.4,697.5" fill="#00f"/><polygon points="302.7,686.0 308.3,696.0 297.1,696.0" fill="#00f"/><polygon points="321.5,687.5 327.1,697.5 315.9,697.5" fill="#00f"/><polygon points="340.2,687.5 345.8,697.5 334.6,697.5" fill="#00f"/><polygon points="358.9,685.4 364.5,695.4 353.3,695.4" fill="#00f"/><polygon points="377.7,683.2 383.3,693.2 372.1,693.2" fill="#00f"/><polygon points="396.4,685.0 402.0,695.0 390.8,695.0" fill="#00f"/><polygon points="415.2,683.9 420.8,693.9 409.6,693.9" fill="#00f"/><polygon points="433.9,679.0 439.5,689.0 428.3,689.0" fill="#00f"/><polygon points="452.7,676.8 458.3,686.8 447.1,686.8" fill="#00f"/><polygon points="471.4,677.2 477.0,687.2 465.8,687.2" fill="#00f"/><polygon points="490.2,679.4 495.8,689.4 484.6,689.4" fill="#00f"/><polygon points="508.9,671.6 514.5,681.6 503.3,681.6" fill="#00f"/><polygon points="527.6,668.2 533.2,678.2 522.0,678.2" fill="#00f"/><polygon points="546.4,669.0 552.0,679.0 540.8,679.0" fill="#00f"/><polygon points="565.1,669.6 570.7,679.6 559.5,679.6" fill="#00f"/><polygon points="583.9,665.2 589.5,675.2 578.3,675.2" fill="#00f"/><polygon points="602.6,664.6 608.2,674.6 597.0,674.6" fill="#00f"/><polygon points="621.4,659.1 627.0,669.1 615.8,669.1" fill="#00f"/><polygon points="640.1,658.6 645.7,668.6 634.5,668.6" fill="#00f"/><polygon points="658.9,654.7 664.5,664.7 653.3,664.7" fill="#00f"/><polygon points="677.6,652.0 683.2,662.0 672.0,662.0" fill="#00f"/><polygon points="696.4,653.3 702.0,663.3 690.8,663.3" fill="#00f"/><polygon points="715.1,644.3 720.7,654.3 709.5,654.3" fill="#00f"/><polygon points="733.8,643.9 739.4,653.9 728.2,653.9" fill="#00f"/><polygon points="752.6,631.7 758.2,641.7 747.0,641.7" fill="#00f"/><polygon points="771.3,624.3 776.9,634.3 765.7,634.3" fill="#00f"/><polygon points="790.1,616.1 795.7,626.1 784.5,626.1" fill="#00f"/><polygon points="808.8,593.1 814.4,603.1 803.2,603.1" fill="#00f"/><polygon points="827.6,576.1 833.2,586.1 822.0,586.1" fill="#00f"/><polygon points="846.3,563.5 851.9,573.5 840.7,573.5" fill="#00f"/><polygon points="865.1,550.0 870.7,560.0 859.5,560.0" fill="#00f"/><polygon points="883.8,558.3 889.4,568.3 878.2,568.3" fill="#00f"/><polygon points="902.5,565.7 908.1,575.7 896.9,575.7" fill="#00f"/><polygon points="921.3,594.0 926.9,604.0 915.7,604.0" fill="#00f"/><polygon points="940.0,614.8 945.6,624.8 934.4,624.8" fill="#00f"/><polygon points="958.8,638.8 964.4,648.8 953.2,648.8" fill="#00f"/><polygon points="977.5,649.5 983.1,659.5 971.9,659.5" fill="#00f"/><polygon points="996.3,662.8 1001.9,672.8 990.7,672.8" fill="#00f"/><polygon points="1015.0,665.6 1020.6,675.6 1009.4,675.6" fill="#00f"/>
<polygon points="134.0,686.7 139.4,692.1 134.0,697.5 128.6,692.1" fill="#f0f"/><polygon points="152.7,687.4 158.1,692.8 152.7,698.2 147.3,692.8" fill="#f0f"/><polygon points="171.5,687.4 176.9,692.8 171.5,698.2 166.1,692.8" fill="#f0f"/><polygon points="190.2,686.7 195.6,692.1 190.2,697.5 184.8,692.1" fill="#f0f"/><polygon points="209.0,686.7 214.4,692.1 209.0,697.5 203.6,692.1" fill="#f0f"/><polygon points="227.7,686.1 233.1,691.5 227.7,696.9 222.3,691.5" fill="#f0f"/><polygon points="246.5,684.6 251.9,690.0 246.5,695.4 241.1,690.0" fill="#f0f"/><polygon points="265.2,686.1 270.6,691.5 265.2,696.9 259.8,691.5" fill="#f0f"/><polygon points="284.0,683.1 289.4,688.5 284.0,693.9 278.6,688.5" fill="#f0f"/><polygon points="302.7,682.4 308.1,687.8 302.7,693.2 297.3,687.8" fill="#f0f"/><polygon points="321.5,683.1 326.9,688.5 321.5,693.9 316.1,688.5" fill="#f0f"/><polygon points="340.2,681.2 345.6,686.6 340.2,692.0 334.8,686.6" fill="#f0f"/><polygon points="358.9,676.4 364.3,681.8 358.9,687.2 353.5,681.8" fill="#f0f"/><polygon points="377.7,671.7 383.1,677.1 377.7,682.5 372.3,677.1" fill="#f0f"/><polygon points="396.4,665.2 401.8,670.6 396.4,676.0 391.0,670.6" fill="#f0f"/><polygon points="415.2,658.1 420.6,663.5 415.2,668.9 409.8,663.5" fill="#f0f"/><polygon points="433.9,647.4 439.3,652.8 433.9,658.2 428.5,652.8" fill="#f0f"/><polygon points="452.7,636.0 458.1,641.4 452.7,646.8 447.3,641.4" fill="#f0f"/><polygon points="471.4,630.9 476.8,636.3 471.4,641.7 466.0,636.3" fill="#f0f"/><polygon points="490.2,621.0 495.6,626.4 490.2,631.8 484.8,626.4" fill="#f0f"/><polygon points="508.9,613.6 514.3,619.0 508.9,624.4 503.5,619.0" fill="#f0f"/><polygon points="527.6,611.4 533.0,616.8 527.6,622.2 522.2,616.8" fill="#f0f"/><polygon points="546.4,613.6 551.8,619.0 546.4,624.4 541.0,619.0" fill="#f0f"/><polygon points="565.1,618.7 570.5,624.1 565.1,629.5 559.7,624.1" fill="#f0f"/><polygon points="583.9,613.2 589.3,618.6 583.9,624.0 578.5,618.6" fill="#f0f"/><polygon points="602.6,605.5 608.0,610.9 602.6,616.3 597.2,610.9" fill="#f0f"/><polygon points="621.4,608.1 626.8,613.5 621.4,618.9 616.0,613.5" fill="#f0f"/><polygon points="640.1,608.8 645.5,614.2 640.1,619.6 634.7,614.2" fill="#f0f"/><polygon points="658.9,601.5 664.3,606.9 658.9,612.3 653.5,606.9" fill="#f0f"/><polygon points="677.6,612.5 683.0,617.9 677.6,623.3 672.2,617.9" fill="#f0f"/><polygon points="696.4,601.0 701.8,606.4 696.4,611.8 691.0,606.4" fill="#f0f"/><polygon points="715.1,592.3 720.5,597.7 715.1,603.1 709.7,597.7" fill="#f0f"/><polygon points="733.8,599.0 739.2,604.4 733.8,609.8 728.4,604.4" fill="#f0f"/><polygon points="752.6,580.5 758.0,585.9 752.6,591.3 747.2,585.9" fill="#f0f"/><polygon points="771.3,574.2 776.7,579.6 771.3,585.0 765.9,579.6" fill="#f0f"/><polygon points="790.1,565.0 795.5,570.4 790.1,575.8 784.7,570.4" fill="#f0f"/><polygon points="808.8,553.9 814.2,559.3 808.8,564.7 803.4,559.3" fill="#f0f"/><polygon points="827.6,546.1 833.0,551.5 827.6,556.9 822.2,551.5" fill="#f0f"/><polygon points="846.3,529.4 851.7,534.8 846.3,540.2 840.9,534.8" fill="#f0f"/><polygon points="865.1,538.9 870.5,544.3 865.1,549.7 859.7,544.3" fill="#f0f"/><polygon points="883.8,548.6 889.2,554.0 883.8,559.4 878.4,554.0" fill="#f0f"/><polygon points="902.5,581.6 907.9,587.0 902.5,592.4 897.1,587.0" fill="#f0f"/><polygon points="921.3,597.2 926.7,602.6 921.3,608.0 915.9,602.6" fill="#f0f"/><polygon points="940.0,618.7 945.4,624.1 940.0,629.5 934.6,624.1" fill="#f0f"/><polygon points="958.8,639.4 964.2,644.8 958.8,650.2 953.4,644.8" fill="#f0f"/><polygon points="977.5,649.1 982.9,654.5 977.5,659.9 972.1,654.5" fill="#f0f"/><polygon points="996.3,658.8 1001.7,664.2 996.3,669.6 990.9,664.2" fill="#f0f"/><polygon points="1015.0,654.5 1020.4,659.9 1015.0,665.3 1009.6,659.9" fill="#f0f"/>
<polygon points="134.00,683.40 135.65,687.43 139.99,687.75 136.66,690.57 137.70,694.80 134.00,692.50 130.30,694.80 131.34,690.57 128.01,687.75 132.35,687.43" fill="#008000"/><polygon points="152.75,681.70 154.39,685.73 158.74,686.05 155.41,688.87 156.45,693.10 152.75,690.80 149.04,693.10 150.08,688.87 146.75,686.05 151.10,685.73" fill="#008000"/><polygon points="171.49,684.00 173.14,688.03 177.48,688.35 174.15,691.17 175.19,695.40 171.49,693.10 167.79,695.40 168.83,691.17 165.50,688.35 169.84,688.03" fill="#008000"/><polygon points="190.24,681.90 191.88,685.93 196.23,686.25 192.90,689.07 193.94,693.30 190.24,691.00 186.53,693.30 187.57,689.07 184.24,686.25 188.59,685.93" fill="#008000"/><polygon points="208.98,679.50 210.63,683.53 214.97,683.85 211.64,686.67 212.68,690.90 208.98,688.60 205.28,690.90 206.32,686.67 202.99,683.85 207.33,683.53" fill="#008000"/><polygon points="227.73,679.70 229.37,683.73 233.72,684.05 230.39,686.87 231.43,691.10 227.73,688.80 224.02,691.10 225.06,686.87 221.73,684.05 226.08,683.73" fill="#008000"/><polygon points="246.47,676.30 248.12,680.33 252.46,680.65 249.13,683.47 250.17,687.70 246.47,685.40 242.77,687.70 243.81,683.47 240.48,680.65 244.82,680.33" fill="#008000"/><polygon points="265.22,670.40 266.86,674.43 271.21,674.75 267.88,677.57 268.92,681.80 265.22,679.50 261.51,681.80 262.55,677.57 259.22,674.75 263.57,674.43" fill="#008000"/><polygon points="283.96,666.50 285.61,670.53 289.95,670.85 286.62,673.67 287.66,677.90 283.96,675.60 280.26,677.90 281.30,673.67 277.97,670.85 282.31,670.53" fill="#008000"/><polygon points="302.71,657.30 304.35,661.33 308.70,661.65 305.37,664.47 306.41,668.70 302.71,666.40 299.00,668.70 300.04,664.47 296.71,661.65 301.06,661.33" fill="#008000"/><polygon points="321.45,651.70 323.10,655.73 327.44,656.05 324.11,658.87 325.15,663.10 321.45,660.80 317.75,663.10 318.79,658.87 315.46,656.05 319.80,655.73" fill="#008000"/><polygon points="340.20,632.30 341.84,636.33 346.19,636.65 342.86,639.47 343.90,643.70 340.20,641.40 336.49,643.70 337.53,639.47 334.20,636.65 338.55,636.33" fill="#008000"/><polygon points="358.94,631.00 360.59,635.03 364.93,635.35 361.60,638.17 362.64,642.40 358.94,640.10 355.24,642.40 356.28,638.17 352.95,635.35 357.29,635.03" fill="#008000"/><polygon points="377.69,612.80 379.33,616.83 383.68,617.15 380.35,619.97 381.39,624.20 377.69,621.90 373.98,624.20 375.02,619.97 371.69,617.15 376.04,616.83" fill="#008000"/><polygon points="396.43,597.70 398.08,601.73 402.42,602.05 399.09,604.87 400.13,609.10 396.43,606.80 392.73,609.10 393.77,604.87 390.44,602.05 394.78,601.73" fill="#008000"/><polygon points="415.18,588.50 416.82,592.53 421.17,592.85 417.84,595.67 418.88,599.90 415.18,597.60 411.47,599.90 412.51,595.67 409.18,592.85 413.53,592.53" fill="#008000"/><polygon points="433.92,580.50 435.57,584.53 439.91,584.85 436.58,587.67 437.62,591.90 433.92,589.60 430.22,591.90 431.26,587.67 427.93,584.85 432.27,584.53" fill="#008000"/><polygon points="452.67,572.40 454.31,576.43 458.66,576.75 455.33,579.57 456.37,583.80 452.67,581.50 448.96,583.80 450.00,579.57 446.67,576.75 451.02,576.43" fill="#008000"/><polygon points="471.41,567.00 473.06,571.03 477.40,571.35 474.07,574.17 475.11,578.40 471.41,576.10 467.71,578.40 468.75,574.17 465.42,571.35 469.76,571.03" fill="#008000"/><polygon points="490.16,566.40 491.80,570.43 496.15,570.75 492.82,573.57 493.86,577.80 490.16,575.50 486.45,577.80 487.49,573.57 484.16,570.75 488.51,570.43" fill="#008000"/><polygon points="508.90,564.70 510.55,568.73 514.89,569.05 511.56,571.87 512.60,576.10 508.90,573.80 505.20,576.10 506.24,571.87 502.91,569.05 507.25,568.73" fill="#008000"/><polygon points="527.64,570.20 529.29,574.23 533.64,574.55 530.31,577.37 531.35,581.60 527.64,579.30 523.94,581.60 524.98,577.37 521.65,574.55 526.00,574.23" fill="#008000"/><polygon points="546.39,560.60 548.04,564.63 552.38,564.95 549.05,567.77 550.09,572.00 546.39,569.70 542.69,572.00 543.73,567.77 540.40,564.95 544.74,564.63" fill="#008000"/><polygon points="565.13,566.60 566.78,570.63 571.13,570.95 567.80,573.77 568.84,578.00 565.13,575.70 561.43,578.00 562.47,573.77 559.14,570.95 563.49,570.63" fill="#008000"/><polygon points="583.88,567.70 585.53,571.73 589.87,572.05 586.54,574.87 587.58,579.10 583.88,576.80 580.18,579.10 581.22,574.87 577.89,572.05 582.23,571.73" fill="#008000"/><polygon points="602.62,565.50 604.27,569.53 608.62,569.85 605.29,572.67 606.33,576.90 602.62,574.60 598.92,576.90 599.96,572.67 596.63,569.85 600.98,569.53" fill="#008000"/><polygon points="621.37,562.20 623.02,566.23 627.36,566.55 624.03,569.37 625.07,573.60 621.37,571.30 617.67,573.60 618.71,569.37 615.38,566.55 619.72,566.23" fill="#008000"/><polygon points="640.12,562.20 641.76,566.23 646.11,566.55 642.78,569.37 643.82,573.60 640.12,571.30 636.41,573.60 637.45,569.37 634.12,566.55 638.47,566.23" fill="#008000"/><polygon points="658.86,551.80 660.51,555.83 664.85,556.15 661.52,558.97 662.56,563.20 658.86,560.90 655.16,563.20 656.20,558.97 652.87,556.15 657.21,555.83" fill="#008000"/><polygon points="677.61,557.80 679.25,561.83 683.60,562.15 680.27,564.97 681.31,569.20 677.61,566.90 673.90,569.20 674.94,564.97 671.61,562.15 675.96,561.83" fill="#008000"/><polygon points="696.35,552.10 698.00,556.13 702.34,556.45 699.01,559.27 700.05,563.50 696.35,561.20 692.65,563.50 693.69,559.27 690.36,556.45 694.70,556.13" fill="#008000"/><polygon points="715.10,540.40 716.74,544.43 721.09,544.75 717.76,547.57 718.80,551.80 715.10,549.50 711.39,551.80 712.43,547.57 709.10,544.75 713.45,544.43" fill="#008000"/><polygon points="733.84,528.50 735.49,532.53 739.83,532.85 736.50,535.67 737.54,539.90 733.84,537.60 730.14,539.90 731.18,535.67 727.85,532.85 732.19,532.53" fill="#008000"/><polygon points="752.59,519.30 754.23,523.33 758.58,523.65 755.25,526.47 756.29,530.70 752.59,528.40 748.88,530.70 749.92,526.47 746.59,523.65 750.94,523.33" fill="#008000"/><polygon points="771.33,499.30 772.98,503.33 777.32,503.65 773.99,506.47 775.03,510.70 771.33,508.40 767.63,510.70 768.67,506.47 765.34,503.65 769.68,503.33" fill="#008000"/><polygon points="790.08,492.60 791.72,496.63 796.07,496.95 792.74,499.77 793.78,504.00 790.08,501.70 786.37,504.00 787.41,499.77 784.08,496.95 788.43,496.63" fill="#008000"/><polygon points="808.82,457.40 810.47,461.43 814.81,461.75 811.48,464.57 812.52,468.80 808.82,466.50 805.12,468.80 806.16,464.57 802.83,461.75 807.17,461.43" fill="#008000"/><polygon points="827.57,443.70 829.21,447.73 833.56,448.05 830.23,450.87 831.27,455.10 827.57,452.80 823.86,455.10 824.90,450.87 821.57,448.05 825.92,447.73" fill="#008000"/><polygon points="846.31,433.30 847.96,437.33 852.30,437.65 848.97,440.47 850.01,444.70 846.31,442.40 842.61,444.70 843.65,440.47 840.32,437.65 844.66,437.33" fill="#008000"/><polygon points="865.06,418.20 866.70,422.23 871.05,422.55 867.72,425.37 868.76,429.60 865.06,427.30 861.35,429.60 862.39,425.37 859.06,422.55 863.41,422.23" fill="#008000"/><polygon points="883.80,457.40 885.45,461.43 889.79,461.75 886.46,464.57 887.50,468.80 883.80,466.50 880.10,468.80 881.14,464.57 877.81,461.75 882.15,461.43" fill="#008000"/><polygon points="902.55,471.90 904.19,475.93 908.54,476.25 905.21,479.07 906.25,483.30 902.55,481.00 898.84,483.30 899.88,479.07 896.55,476.25 900.90,475.93" fill="#008000"/><polygon points="921.29,520.40 922.94,524.43 927.28,524.75 923.95,527.57 924.99,531.80 921.29,529.50 917.59,531.80 918.63,527.57 915.30,524.75 919.64,524.43" fill="#008000"/><polygon points="940.04,562.30 941.68,566.33 946.03,566.65 942.70,569.47 943.74,573.70 940.04,571.40 936.33,573.70 937.37,569.47 934.04,566.65 938.39,566.33" fill="#008000"/><polygon points="958.78,587.30 960.43,591.33 964.77,591.65 961.44,594.47 962.48,598.70 958.78,596.40 955.08,598.70 956.12,594.47 952.79,591.65 957.13,591.33" fill="#008000"/><polygon points="977.53,615.30 979.17,619.33 983.52,619.65 980.19,622.47 981.23,626.70 977.53,624.40 973.82,626.70 974.86,622.47 971.53,619.65 975.88,619.33" fill="#008000"/><polygon points="996.27,625.70 997.92,629.73 1002.26,630.05 998.93,632.87 999.97,637.10 996.27,634.80 992.57,637.10 993.61,632.87 990.28,630.05 994.62,629.73" fill="#008000"/><polygon points="1015.02,630.30 1016.66,634.33 1021.01,634.65 1017.68,637.47 1018.72,641.70 1015.02,639.40 1011.31,641.70 1012.35,637.47 1009.02,634.65 1013.37,634.33" fill="#008000"/>
<path d="M134.0,697.2C137.1,697.2 146.5,697.2 152.7,697.2C159.0,697.2 165.2,697.2 171.5,697.2C177.7,697.2 184.0,697.2 190.2,697.2C196.5,697.2 202.7,697.2 209.0,697.2C215.2,697.2 221.5,697.2 227.7,697.2C234.0,697.2 240.2,697.2 246.5,697.2C252.7,697.2 259.0,697.2 265.2,697.2C271.5,697.2 277.7,697.2 284.0,697.2C290.2,697.2 296.5,697.2 302.7,697.2C309.0,697.2 315.2,697.2 321.5,697.2C327.7,697.2 333.9,697.2 340.2,697.2C346.4,697.2 352.7,697.2 358.9,697.2C365.2,697.2 371.4,697.2 377.7,697.2C383.9,697.2 390.2,697.2 396.4,697.2C402.7,697.2 408.9,697.2 415.2,697.2C421.4,697.2 427.7,697.2 433.9,697.2C440.2,697.2 446.4,697.2 452.7,697.2C458.9,697.2 465.2,697.2 471.4,697.2C477.7,697.2 483.9,697.2 490.2,697.2C496.4,697.2 502.7,697.2 508.9,697.2C515.1,697.2 521.4,697.2 527.6,697.2C533.9,697.2 540.1,697.4 546.4,697.2C552.6,697.1 558.9,696.9 565.1,696.6C571.4,696.3 577.6,695.9 583.9,695.5C590.1,695.1 596.4,694.8 602.6,694.4C608.9,694.0 615.1,693.5 621.4,693.0C627.6,692.5 633.9,692.0 640.1,691.5C646.4,691.0 652.6,690.5 658.9,690.0C665.1,689.5 671.4,689.0 677.6,688.7C683.9,688.5 690.1,689.0 696.4,688.5C702.6,688.0 708.8,686.8 715.1,685.9L733.8,684.1L752.6,683.3L771.3,680.4L790.1,675.9L808.8,665.6L827.6,650.7L846.3,635.9L865.1,621.6L883.8,614.5L902.5,619.5L921.3,633.0L940.0,649.0L958.8,661.5L977.5,675.7L996.3,685.0L1015.0,691.6" fill="none" stroke="#000000" stroke-width="2.6" stroke-linejoin="round"/>
<path d="M134.0,697.2C137.1,697.2 146.5,697.2 152.7,697.2C159.0,697.2 165.2,697.2 171.5,697.2C177.7,697.2 184.0,697.2 190.2,697.2C196.5,697.2 202.7,697.2 209.0,697.2C215.2,697.2 221.5,697.2 227.7,697.2C234.0,697.2 240.2,697.2 246.5,697.2C252.7,697.2 259.0,697.2 265.2,697.2C271.5,697.2 277.7,697.2 284.0,697.2C290.2,697.2 296.5,697.2 302.7,697.2C309.0,697.2 315.2,697.2 321.5,697.2C327.7,697.2 333.9,697.2 340.2,697.2C346.4,697.2 352.7,697.2 358.9,697.2C365.2,697.2 371.4,697.2 377.7,697.2C383.9,697.2 390.2,697.2 396.4,697.2C402.7,697.2 408.9,697.2 415.2,697.2C421.4,697.2 427.7,697.4 433.9,697.2C440.2,697.1 446.4,696.6 452.7,696.4C458.9,696.2 465.2,696.2 471.4,696.1C477.7,696.0 483.9,695.9 490.2,695.8C496.4,695.7 502.7,695.7 508.9,695.5C515.1,695.3 521.4,694.9 527.6,694.4C533.9,693.9 540.1,693.2 546.4,692.5C552.6,691.8 558.9,691.1 565.1,690.4C571.4,689.7 577.6,689.1 583.9,688.5C590.1,687.9 596.4,687.2 602.6,686.5C608.9,685.8 615.1,685.1 621.4,684.5C627.6,683.9 633.9,683.2 640.1,682.7C646.4,682.2 652.6,681.8 658.9,681.4C665.1,681.0 671.4,680.7 677.6,680.1C683.9,679.5 690.1,678.3 696.4,677.6C702.6,676.9 708.8,676.5 715.1,675.9L733.8,673.7L752.6,669.3L771.3,663.7L790.1,654.4L808.8,640.4L827.6,623.0L846.3,604.4L865.1,589.0L883.8,585.1L902.5,594.3L921.3,618.7L940.0,636.6L958.8,652.0L977.5,673.0L996.3,684.0L1015.0,692.0" fill="none" stroke="#ff0000" stroke-width="2.6" stroke-linejoin="round"/>
<path d="M134.0,697.2C137.1,697.2 146.5,697.2 152.7,697.2C159.0,697.2 165.2,697.2 171.5,697.2C177.7,697.2 184.0,697.2 190.2,697.2C196.5,697.2 202.7,697.2 209.0,697.2C215.2,697.2 221.5,697.2 227.7,697.2C234.0,697.2 240.2,697.2 246.5,697.2C252.7,697.2 259.0,697.2 265.2,697.2C271.5,697.2 277.7,697.2 284.0,697.2C290.2,697.2 296.5,697.2 302.7,697.2C309.0,697.2 315.2,697.2 321.5,697.2C327.7,697.2 333.9,697.4 340.2,697.2C346.4,697.1 352.7,696.8 358.9,696.4C365.2,696.0 371.4,695.8 377.7,695.1C383.9,694.5 390.2,693.4 396.4,692.5C402.7,691.6 408.9,691.0 415.2,690.0C421.4,689.0 427.7,687.6 433.9,686.5C440.2,685.4 446.4,684.4 452.7,683.5C458.9,682.6 465.2,682.1 471.4,681.4C477.7,680.7 483.9,679.8 490.2,679.2C496.4,678.6 502.7,678.1 508.9,677.6C515.1,677.1 521.4,676.4 527.6,676.0C533.9,675.6 540.1,675.4 546.4,675.0C552.6,674.6 558.9,674.0 565.1,673.5C571.4,673.0 577.6,672.5 583.9,671.8C590.1,671.0 596.4,669.9 602.6,669.0C608.9,668.1 615.1,667.1 621.4,666.3C627.6,665.5 633.9,664.8 640.1,664.0C646.4,663.2 652.6,662.4 658.9,661.4C665.1,660.4 671.4,659.1 677.6,658.0C683.9,656.9 690.1,656.3 696.4,655.0C702.6,653.7 708.8,651.7 715.1,650.0L733.8,643.3L752.6,636.7L771.3,626.7L790.1,615.6L808.8,598.9L827.6,579.6L846.3,562.6L865.1,556.5L883.8,560.5L902.5,575.0L921.3,600.8L940.0,626.9L958.8,649.3L977.5,672.5L996.3,683.8L1015.0,691.8" fill="none" stroke="#0000ff" stroke-width="2.6" stroke-linejoin="round"/>
<path d="M134.0,697.2C137.1,697.2 146.5,697.2 152.7,697.2C159.0,697.2 165.2,697.2 171.5,697.2C177.7,697.2 184.0,697.2 190.2,697.2C196.5,697.2 202.7,697.2 209.0,697.2C215.2,697.2 221.5,697.2 227.7,697.2C234.0,697.2 240.2,697.2 246.5,697.2C252.7,697.2 259.0,697.2 265.2,697.2C271.5,697.2 277.7,697.2 284.0,697.2C290.2,697.2 296.5,697.4 302.7,697.2C309.0,697.1 315.2,696.9 321.5,696.5C327.7,696.1 333.9,696.0 340.2,695.0C346.4,694.0 352.7,692.8 358.9,690.8C365.2,688.8 371.4,685.8 377.7,682.9C383.9,680.0 390.2,676.5 396.4,673.2C402.7,669.9 408.9,666.4 415.2,662.9C421.4,659.4 427.7,655.7 433.9,652.1C440.2,648.5 446.4,644.6 452.7,641.4C458.9,638.2 465.2,635.2 471.4,632.8C477.7,630.4 483.9,628.7 490.2,627.0C496.4,625.3 502.7,623.7 508.9,622.7C515.1,621.7 521.4,621.4 527.6,620.8C533.9,620.2 540.1,619.8 546.4,619.3C552.6,618.8 558.9,618.4 565.1,617.9C571.4,617.4 577.6,616.6 583.9,616.0C590.1,615.4 596.4,614.8 602.6,614.2C608.9,613.7 615.1,613.2 621.4,612.7C627.6,612.2 633.9,611.9 640.1,611.3C646.4,610.7 652.6,609.7 658.9,609.0C665.1,608.3 671.4,607.9 677.6,606.9C683.9,605.9 690.1,604.8 696.4,603.3C702.6,601.8 708.8,599.8 715.1,598.1L733.8,594.1L752.6,587.0L771.3,578.5L790.1,568.5L808.8,557.4L827.6,545.2L846.3,535.9L865.1,536.0L883.8,547.1L902.5,570.4L921.3,599.0L940.0,625.9L958.8,649.1L977.5,672.5L996.3,683.6L1015.0,691.6" fill="none" stroke="#ff00ff" stroke-width="2.6" stroke-linejoin="round"/>
<path d="M134.0,697.2C137.1,697.2 146.5,697.2 152.7,697.2C159.0,697.2 165.2,697.2 171.5,697.2C177.7,697.2 184.0,697.2 190.2,697.2C196.5,697.2 202.7,697.2 209.0,697.2C215.2,697.2 221.5,697.5 227.7,697.2C234.0,697.0 240.2,696.7 246.5,696.0C252.7,695.3 259.0,694.5 265.2,693.2C271.5,691.9 277.7,690.3 284.0,688.3C290.2,686.3 296.5,684.7 302.7,681.4C309.0,678.1 315.2,673.7 321.5,668.5C327.7,663.3 333.9,655.7 340.2,650.0C346.4,644.3 352.7,640.0 358.9,634.5C365.2,629.0 371.4,622.3 377.7,617.3C383.9,612.3 390.2,608.1 396.4,604.5C402.7,600.9 408.9,598.2 415.2,595.4C421.4,592.6 427.7,590.1 433.9,587.7C440.2,585.4 446.4,582.9 452.7,581.3C458.9,579.7 465.2,578.8 471.4,578.0C477.7,577.2 483.9,576.9 490.2,576.5C496.4,576.1 502.7,575.8 508.9,575.4C515.1,575.0 521.4,574.6 527.6,574.2C533.9,573.8 540.1,573.5 546.4,573.0C552.6,572.5 558.9,571.8 565.1,571.3C571.4,570.8 577.6,570.5 583.9,570.0C590.1,569.5 596.4,569.1 602.6,568.5C608.9,567.9 615.1,567.2 621.4,566.6C627.6,566.0 633.9,565.5 640.1,564.7C646.4,563.9 652.6,563.0 658.9,562.0C665.1,561.0 671.4,559.8 677.6,558.6C683.9,557.4 690.1,556.7 696.4,554.8C702.6,552.9 708.8,549.6 715.1,547.0L733.8,537.8L752.6,527.8L771.3,515.6L790.1,498.9L808.8,476.7L827.6,451.5L846.3,430.4L865.1,428.5L883.8,449.8L902.5,483.0L921.3,538.2L940.0,582.9L958.8,622.3L977.5,654.0L996.3,675.3L1015.0,687.6" fill="none" stroke="#008000" stroke-width="2.6" stroke-linejoin="round"/>
</g>
<rect x="154.5" y="11" width="310.5" height="230.3" fill="#fff" stroke="#000" stroke-width="1.15"/>
<rect x="199.6" y="68.4" width="8" height="8" fill="#000"/>
<line x1="243.3" y1="72.4" x2="309.3" y2="72.4" stroke="#000000" stroke-width="3.6"/>
<circle cx="203.6" cy="107.9" r="4.9" fill="#f00"/>
<line x1="243.3" y1="107.9" x2="309.3" y2="107.9" stroke="#ff0000" stroke-width="3"/>
<polygon points="203.6,136.9 209.3,146.9 197.8,146.9" fill="#00f"/>
<line x1="243.3" y1="143.4" x2="309.3" y2="143.4" stroke="#0000ff" stroke-width="4"/>
<polygon points="203.6,173.5 209.0,178.9 203.6,184.3 198.2,178.9" fill="#f0f"/>
<line x1="243.3" y1="178.9" x2="309.3" y2="178.9" stroke="#ff00ff" stroke-width="3"/>
<polygon points="203.60,208.20 205.13,212.30 209.50,212.48 206.07,215.20 207.24,219.42 203.60,217.00 199.96,219.42 201.13,215.20 197.70,212.48 202.07,212.30" fill="#008000"/>
<line x1="243.3" y1="214.4" x2="309.3" y2="214.4" stroke="#008000" stroke-width="3"/>
<g fill="#000"><g transform="matrix(1.0198 0 0 1.0248 -0.57 -9.79)"><text x="120" y="364.0" font-family="'Liberation Sans', Arial, sans-serif" text-rendering="geometricPrecision" font-size="34" text-anchor="end">0.0</text></g><g transform="matrix(1.0249 0 0 1.0247 -0.98 -7.44)"><text x="120" y="271.0" font-family="'Liberation Sans', Arial, sans-serif" text-rendering="geometricPrecision" font-size="34" text-anchor="end">0.5</text></g><g transform="matrix(1.0060 0 0 1.0242 0.96 -5.06)"><text x="120" y="178.0" font-family="'Liberation Sans', Arial, sans-serif" text-rendering="geometricPrecision" font-size="34" text-anchor="end">1.0</text></g><g transform="matrix(1.0110 0 0 1.0377 0.59 -3.82)"><text x="120" y="85.0" font-family="'Liberation Sans', Arial, sans-serif" text-rendering="geometricPrecision" font-size="34" text-anchor="end">1.5</text></g><g transform="matrix(1.0198 0 0 1.0248 -0.57 -18.83)"><text x="120" y="707.5" font-family="'Liberation Sans', Arial, sans-serif" text-rendering="geometricPrecision" font-size="34" text-anchor="end">0.0</text></g><g transform="matrix(1.0249 0 0 1.0247 -0.98 -16.42)"><text x="120" y="614.5" font-family="'Liberation Sans', Arial, sans-serif" text-rendering="geometricPrecision" font-size="34" text-anchor="end">0.5</text></g><g transform="matrix(1.0060 0 0 1.0242 0.96 -13.87)"><text x="120" y="521.5" font-family="'Liberation Sans', Arial, sans-serif" text-rendering="geometricPrecision" font-size="34" text-anchor="end">1.0</text></g><g transform="matrix(1.0110 0 0 1.0377 0.59 -17.27)"><text x="120" y="428.5" font-family="'Liberation Sans', Arial, sans-serif" text-rendering="geometricPrecision" font-size="34" text-anchor="end">1.5</text></g><g transform="matrix(1.0109 0 0 1.0101 -2.64 -7.23)"><text x="227.7" y="736" font-family="'Liberation Sans', Arial, sans-serif" text-rendering="geometricPrecision" font-size="34" text-anchor="middle">350</text></g><g transform="matrix(1.0039 0 0 1.0101 -1.99 -7.23)"><text x="415.2" y="736" font-family="'Liberation Sans', Arial, sans-serif" text-rendering="geometricPrecision" font-size="34" text-anchor="middle">360</text></g><g transform="matrix(0.9992 0 0 1.0101 0.65 -7.23)"><text x="602.6" y="736" font-family="'Liberation Sans', Arial, sans-serif" text-rendering="geometricPrecision" font-size="34" text-anchor="middle">370</text></g><g transform="matrix(1.0099 0 0 1.0101 -7.95 -7.23)"><text x="790.1" y="736" font-family="'Liberation Sans', Arial, sans-serif" text-rendering="geometricPrecision" font-size="34" text-anchor="middle">380</text></g><g transform="matrix(1.0100 0 0 1.0101 -9.79 -7.23)"><text x="977.5" y="736" font-family="'Liberation Sans', Arial, sans-serif" text-rendering="geometricPrecision" font-size="34" text-anchor="middle">390</text></g><g transform="matrix(0.9800 0 0 0.9671 10.99 25.98)"><text x="575" y="783" font-family="'Liberation Sans', Arial, sans-serif" text-rendering="geometricPrecision" font-size="40" text-anchor="middle">Channel number</text></g><g transform="matrix(1.0045 0 0 0.9913 -0.71 2.62)"><text transform="translate(40.5,333) rotate(-90)" font-family="'Liberation Sans', Arial, sans-serif" text-rendering="geometricPrecision" font-size="40" text-anchor="middle">Counts (x1000)</text></g><g transform="matrix(1.0239 0 0 1.0007 -5.59 -0.55)"><text x="172" y="47.3" font-family="'Liberation Sans', Arial, sans-serif" text-rendering="geometricPrecision" font-size="28.5">Diffusion temperature</text></g><g transform="matrix(1.0156 0 0 1.0429 -5.88 -3.16)"><text x="318" y="81.9" font-family="'Liberation Sans', Arial, sans-serif" text-rendering="geometricPrecision" font-size="28.5">150°C</text></g><g transform="matrix(1.0157 0 0 1.0436 -5.91 -5.23)"><text x="318" y="117.4" font-family="'Liberation Sans', Arial, sans-serif" text-rendering="geometricPrecision" font-size="28.5">175°C</text></g><g transform="matrix(1.0289 0 0 1.0427 -11.15 -6.18)"><text x="318" y="152.9" font-family="'Liberation Sans', Arial, sans-serif" text-rendering="geometricPrecision" font-size="28.5">200°C</text></g><g transform="matrix(1.0218 0 0 1.0423 -8.89 -8.10)"><text x="318" y="188.4" font-family="'Liberation Sans', Arial, sans-serif" text-rendering="geometricPrecision" font-size="28.5">225°C</text></g><g transform="matrix(1.0218 0 0 1.0421 -8.89 -9.09)"><text x="318" y="223.9" font-family="'Liberation Sans', Arial, sans-serif" text-rendering="geometricPrecision" font-size="28.5">250°C</text></g><g transform="matrix(1.0155 0 0 1.0233 -10.83 -1.40)"><text x="736" y="47.2" font-family="'Liberation Sans', Arial, sans-serif" text-rendering="geometricPrecision" font-size="28.5">(a) In<tspan font-size="23" dy="12.3">2</tspan><tspan dy="-12.3">S</tspan><tspan font-size="23" dy="12.3">3</tspan><tspan dy="-12.3">(acac):Cu</tspan></text></g><g transform="matrix(1.0220 0 0 0.9886 -16.21 3.54)"><text x="764" y="392.5" font-family="'Liberation Sans', Arial, sans-serif" text-rendering="geometricPrecision" font-size="28.5">(b) In<tspan font-size="23" dy="12.3">2</tspan><tspan dy="-12.3">S</tspan><tspan font-size="23" dy="12.3">3</tspan><tspan dy="-12.3">(Cl):Cu</tspan></text></g></g>
</svg>
</body></html>
